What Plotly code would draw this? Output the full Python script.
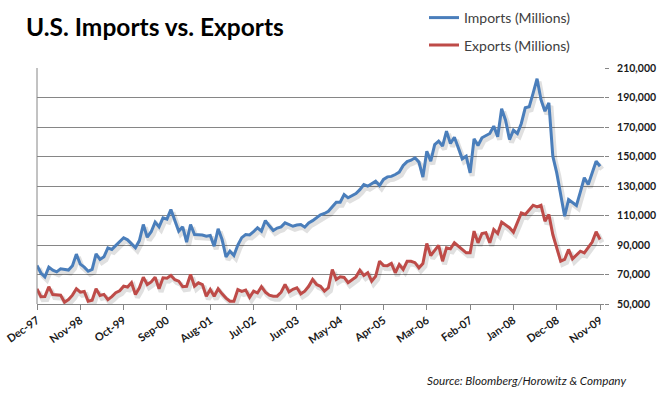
import plotly.graph_objects as go
import pandas as pd

# ---------------- data ----------------
months = list(pd.date_range("1997-12-01", periods=144, freq="MS").strftime("%b-%y"))
tick_labels = ["Dec-97", "Nov-98", "Oct-99", "Sep-00", "Aug-01", "Jul-02", "Jun-03",
               "May-04", "Apr-05", "Mar-06", "Feb-07", "Jan-08", "Dec-08", "Nov-09"]

imports = [
    76100, 71000, 68400, 75000, 73000, 71800, 73900, 73500, 73000, 76000,
    83800, 77000, 75000, 72200, 73500, 84000, 80200, 82000, 88000, 87000,
    89700, 92000, 94900, 93500, 91000, 88100, 93000, 103900, 95300, 99000,
    105500, 102300, 108400, 107500, 114000, 106000, 99400, 102300, 91900, 103900,
    97100, 97000, 96800, 96000, 96500, 89200, 101000, 93700, 82000, 85800,
    82900, 90000, 95000, 97100, 96800, 99000, 101700, 99400, 106600, 103000,
    99800, 101500, 102300, 105000, 104000, 102700, 103500, 103900, 102100, 105000,
    106500, 108400, 110500, 111400, 112900, 116000, 119000, 119000, 124200, 122000,
    123500, 124900, 127500, 131000, 129900, 131500, 133300, 130300, 134500, 136200,
    136500, 137800, 139400, 143900, 146500, 147500, 149100, 146200, 136000, 153600,
    146800, 158100, 160400, 157000, 167200, 158800, 163100, 155900, 148400, 150200,
    138900, 162000, 157500, 162700, 164000, 165600, 170600, 163400, 182400, 174600,
    161500, 167800, 165600, 172400, 183000, 183700, 193000, 202700, 188500, 180700,
    186400, 150200, 138900, 124000, 109500, 120800, 119000, 116800, 126000, 135600,
    131000, 139000, 146800, 143400,
]

exports = [
    60300, 54900, 55000, 61700, 56400, 56400, 56000, 51200, 53000, 56000,
    60300, 58000, 58500, 51900, 52500, 60300, 55800, 56500, 53000, 55000,
    57600, 59000, 62100, 61500, 64400, 56400, 61000, 68200, 63200, 65000,
    68200, 60300, 67800, 67500, 69300, 66500, 65500, 61700, 62000, 70000,
    62100, 64400, 63200, 55300, 59800, 55300, 60300, 56900, 54000, 51900,
    51900, 59800, 58500, 59400, 54600, 58700, 57500, 61700, 58000, 56000,
    55300, 55300, 58000, 63200, 58200, 60000, 61000, 56900, 58700, 62000,
    66600, 63200, 62000, 58700, 61000, 73400, 66600, 68400, 68000, 64400,
    66500, 68400, 72900, 69300, 71200, 65500, 68800, 79000, 76100, 76000,
    77500, 71200, 76800, 73400, 79000, 79000, 78000, 74500, 77500, 91000,
    82900, 86000, 89700, 79000, 88100, 87400, 91500, 89200, 87000, 84700,
    84700, 99400, 91500, 97800, 98300, 91500, 100500, 97800, 105500, 103500,
    101700, 98700, 105000, 111800, 110700, 114000, 117000, 115900, 117000, 106100,
    110700, 97100, 88000, 79000, 80200, 87000, 80600, 83000, 85800, 84700,
    88100, 92000, 99000, 93700,
]

# ---------------- layout geometry ----------------
W, H = 670, 393
L, R, T, B = 37, 66, 68, 89
PW, PH = W - L - R, H - T - B

def px_x(x):
    return (x - L) / PW

def px_y(y):
    return (H - B - y) / PH

idx = list(range(len(months)))
tick_idx = [months.index(t) for t in tick_labels]

X_RANGE = [0, 144]
Y_RANGE = [50000, 210000]
# shadow offset (in pixels) converted to axis units
sx = 2 * (X_RANGE[1] - X_RANGE[0]) / PW
sy = 3 * (Y_RANGE[1] - Y_RANGE[0]) / PH

FONT = "Lato, 'Open Sans', sans-serif"
BLUE = "#4A7EBB"
RED = "#BE4B48"
GRID = "#868686"

fig = go.Figure()

# base axes carrier (no visible marks)
fig.add_trace(go.Scatter(x=[None], y=[None], mode="lines", showlegend=False,
                         hoverinfo="skip"))

# soft shadows (drawn on offset overlay axes)
for vals in (imports, exports):
    fig.add_trace(go.Scatter(
        x=idx, y=vals, xaxis="x2", yaxis="y2", mode="lines",
        line=dict(color="rgba(0,0,0,0.12)", width=5),
        hoverinfo="skip", showlegend=False,
    ))

fig.add_trace(go.Scatter(
    x=idx, y=imports, xaxis="x3", yaxis="y3", mode="lines",
    name="Imports (Millions)", customdata=months,
    line=dict(color=BLUE, width=3), legend="legend",
    hovertemplate="%{customdata}: %{y:,}<extra></extra>",
))
fig.add_trace(go.Scatter(
    x=idx, y=exports, xaxis="x3", yaxis="y3", mode="lines",
    name="Exports (Millions)", customdata=months,
    line=dict(color=RED, width=3), legend="legend2",
    hovertemplate="%{customdata}: %{y:,}<extra></extra>",
))

legend_common = dict(
    font=dict(family=FONT, size=14, color="#404040"),
    bgcolor="rgba(0,0,0,0)", borderwidth=0,
    xanchor="left", yanchor="middle", itemwidth=30,
)

fig.update_layout(
    width=W, height=H,
    margin=dict(l=L, r=R, t=T, b=B, pad=0, autoexpand=False),
    paper_bgcolor="white", plot_bgcolor="white",
    font=dict(family=FONT, color="#1a1a1a"),
    xaxis=dict(
        range=X_RANGE, tickmode="array", tickvals=tick_idx, ticktext=tick_labels,
        tickangle=-35, ticks="outside", ticklen=5, tickcolor=GRID, tickwidth=1,
        showline=True, linecolor=GRID, linewidth=1, showgrid=False, zeroline=False,
        tickfont=dict(family=FONT, size=11, color="#1a1a1a", weight="bold"),
        fixedrange=True,
    ),
    yaxis=dict(
        range=Y_RANGE, dtick=20000, tick0=50000, side="right",
        tickformat=",d", ticks="outside", ticklen=4, tickcolor=GRID,
        showgrid=True, gridcolor=GRID, gridwidth=1, showline=False, zeroline=False,
        tickfont=dict(family=FONT, size=10.5, color="#1a1a1a", weight="bold"),
        ticklabelstandoff=6, fixedrange=True,
    ),
    xaxis2=dict(overlaying="x", range=[X_RANGE[0] - sx, X_RANGE[1] - sx], visible=False),
    yaxis2=dict(overlaying="y", range=[Y_RANGE[0] + sy, Y_RANGE[1] + sy], visible=False),
    xaxis3=dict(overlaying="x", range=X_RANGE, visible=False),
    yaxis3=dict(overlaying="y", range=Y_RANGE, visible=False),
    legend=dict(x=px_x(424), y=px_y(18), **legend_common),
    legend2=dict(x=px_x(424), y=px_y(45.5), **legend_common),
    shapes=[dict(type="line", xref="paper", yref="paper", x0=0, x1=0, y0=0, y1=1,
                 line=dict(color=GRID, width=1))],
    annotations=[
        dict(text="<b>U.S. Imports vs. Exports</b>", xref="paper", yref="paper",
             x=px_x(24), y=px_y(26.5), xanchor="left", yanchor="middle", showarrow=False,
             font=dict(family=FONT, size=24.5, color="#000000")),
        dict(text="<i>Source: Bloomberg/Horowitz &amp; Company</i>", xref="paper", yref="paper",
             x=px_x(628), y=px_y(380), xanchor="right", yanchor="middle", showarrow=False,
             font=dict(family=FONT, size=11.7, color="#1a1a1a")),
    ],
)

fig.write_html(
    "out.html",
    config={"displayModeBar": False},
    post_script="document.body.style.margin='0px';document.body.style.overflow='hidden';",
)
